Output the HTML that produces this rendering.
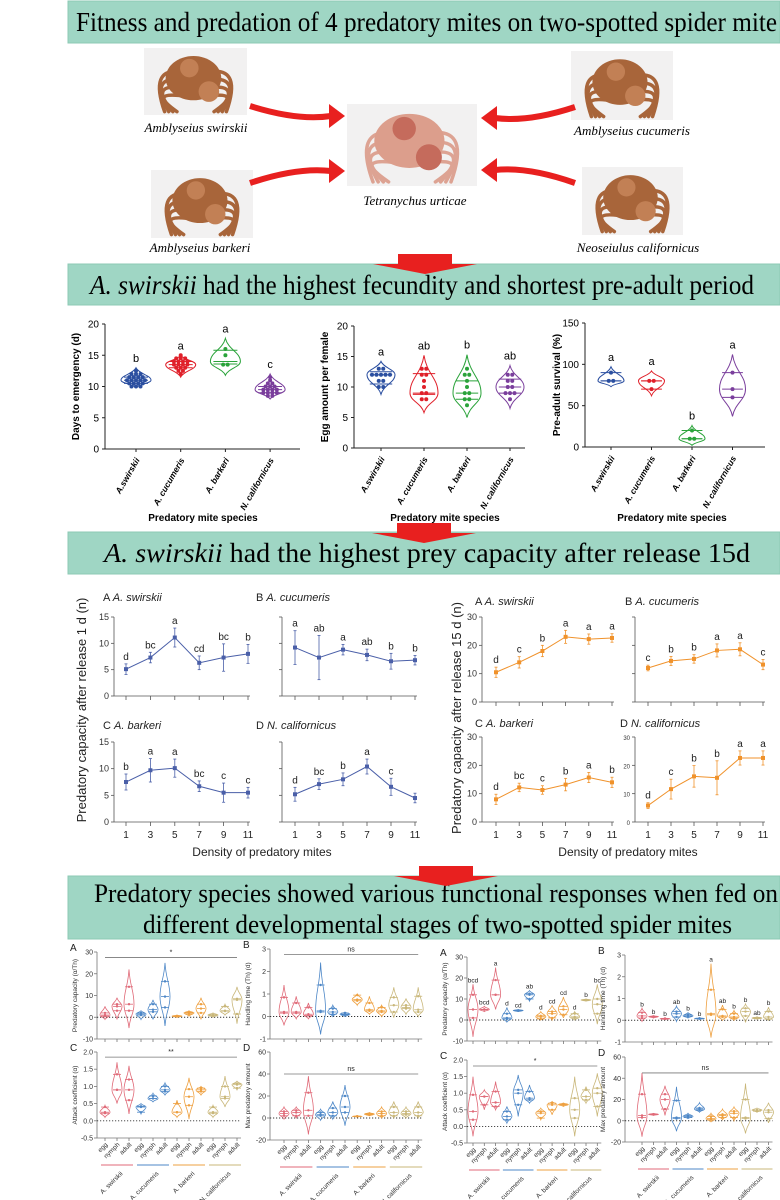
<!DOCTYPE html>
<html><head><meta charset="utf-8"><style>
html,body{margin:0;padding:0;background:#fff;}
svg{display:block;font-family:"Liberation Sans",sans-serif;}
.ser{font-family:"Liberation Serif",serif;}
</style></head><body>
<svg id="root" width="780" height="1200" viewBox="0 0 780 1200">
<g>
<rect x="68" y="1" width="712" height="42" fill="#9fd6c4" stroke="#8cc9b5"/>
<text class="ser" x="76" y="31" font-size="27" textLength="701" lengthAdjust="spacingAndGlyphs">Fitness and predation of 4 predatory mites on two-spotted spider mite</text>
</g>
<g id="mites"></g>
<g>
<rect x="68" y="264" width="712" height="41" fill="#9fd6c4" stroke="#8cc9b5"/>
<text class="ser" x="90" y="294" font-size="27" textLength="664" lengthAdjust="spacingAndGlyphs"><tspan font-style="italic">A. swirskii</tspan> had the highest fecundity and shortest pre-adult period</text>
</g>
<g>
<rect x="68" y="532" width="712" height="42" fill="#9fd6c4" stroke="#8cc9b5"/>
<text class="ser" x="104" y="562" font-size="27" textLength="646" lengthAdjust="spacingAndGlyphs"><tspan font-style="italic">A. swirskii</tspan> had the highest prey capacity after release 15d</text>
</g>
<g>
<rect x="68" y="876" width="712" height="63" fill="#9fd6c4" stroke="#8cc9b5"/>
<text class="ser" x="94" y="902" font-size="26" textLength="684" lengthAdjust="spacingAndGlyphs">Predatory species showed various functional responses when fed on</text>
<text class="ser" x="143" y="933" font-size="26" textLength="589" lengthAdjust="spacingAndGlyphs">different developmental stages of two-spotted spider mites</text>
</g>
<g id="charts"></g>
<g id="arrows"></g>
</svg>
<script>
const NS='http://www.w3.org/2000/svg';
function mk(parent,tag,attrs,name,txt){
  const el=document.createElementNS(NS,tag);
  for(const k in attrs) el.setAttribute(k,attrs[k]);
  
  
  if(txt!==undefined) el.textContent=txt;
  parent.appendChild(el);
  return el;
}
const root=document.getElementById('charts');
const mites=document.getElementById('mites');
const arrows=document.getElementById('arrows');

/* ---------- mite diagram ---------- */
function mite(x,y,w,h,body,spot,leg,label,lx,ly,name){
  const g=mk(mites,'g',{},name);
  mk(g,'rect',{x:x,y:y,width:w,height:h,fill:'#f2f1f1'},'mite-box');
  const cx=x+w/2,cy=y+h/2;
  for(let i=0;i<4;i++){
    const dy=-h*0.15+i*h*0.12;
    mk(g,'path',{d:`M${cx-w*0.15},${cy+dy} Q${cx-w*0.45},${cy+dy-h*0.05} ${cx-w*0.3+i*w*0.04},${cy+h*0.45}`,stroke:leg,'stroke-width':3.5,fill:'none','stroke-linecap':'round'},'mite-leg');
    mk(g,'path',{d:`M${cx+w*0.15},${cy+dy} Q${cx+w*0.45},${cy+dy-h*0.05} ${cx+w*0.3-i*w*0.04},${cy+h*0.45}`,stroke:leg,'stroke-width':3.5,fill:'none','stroke-linecap':'round'},'mite-leg');
  }
  mk(g,'ellipse',{cx:cx-w*0.02,cy:cy-h*0.05,rx:w*0.27,ry:h*0.33,fill:body},'mite-body');
  mk(g,'circle',{cx:cx-w*0.06,cy:cy-h*0.2,r:w*0.09,fill:spot},'mite-spot');
  mk(g,'circle',{cx:cx+w*0.13,cy:cy+h*0.15,r:w*0.1,fill:spot},'mite-spot');
  mk(g,'text',{x:lx,y:ly,'font-size':13,'font-style':'italic','text-anchor':'middle','class':'ser'},'mite-label',label);
}
mite(144,48,103,67,'#a8653a','#c28055','#a8653a','Amblyseius swirskii',196,132,'mite-swirskii');
mite(571,51,102,69,'#a8653a','#c28055','#a8653a','Amblyseius cucumeris',632,135,'mite-cucumeris');
mite(151,170,102,68,'#a8653a','#c28055','#a8653a','Amblyseius barkeri',200,252,'mite-barkeri');
mite(582,167,101,68,'#a8653a','#c28055','#a8653a','Neoseiulus californicus',638,252,'mite-californicus');
mite(347,104,130,82,'#dc9e8c','#c56b5c','#dda393','Tetranychus urticae',415,205,'mite-urticae');
function curveArrow(x1,y1,x2,y2,name){
  const g=mk(mites,'g',{},name);
  const dir=x2>x1?1:-1;
  mk(g,'path',{d:`M${x1},${y1} Q${(x1+x2)/2},${(y1+y2)/2+ (y1<y2?10:-10)} ${x2-dir*14},${y2}`,stroke:'#e8201f','stroke-width':6,fill:'none'},'arrow-shaft');
  mk(g,'polygon',{points:`${x2-dir*16},${y2-12} ${x2},${y2} ${x2-dir*16},${y2+12}`,fill:'#e8201f'},'arrow-head');
}
curveArrow(250,106,345,116,'arrow-swirskii');
curveArrow(575,107,481,118,'arrow-cucumeris');
curveArrow(250,183,345,171,'arrow-barkeri');
curveArrow(575,183,481,170,'arrow-californicus');
function downArrow(cx,y,name){
  const g=mk(arrows,'g',{},name);
  mk(g,'rect',{x:cx-27,y:y,width:54,height:11,fill:'#e8201f'},'arrow-stem');
  mk(g,'polygon',{points:`${cx-52},${y+10} ${cx+52},${y+10} ${cx},${y+20}`,fill:'#e8201f'},'arrow-head');
}
downArrow(425,254,'down-arrow-1');
downArrow(424,523,'down-arrow-2');
downArrow(446,866,'down-arrow-3');

/* ---------- shared ---------- */
function lin(v0,v1,p0,p1){return v=>p0+(v-v0)*(p1-p0)/(v1-v0);}
function violin(g,cx,y,lo,hi,q1,med,q3,w,col,sw){
  const a=y(hi),m=y(med),b=y(lo);
  const d=`M${cx},${a} C${cx+w*0.2},${a+(m-a)*0.5} ${cx+w},${m-(m-a)*0.4} ${cx+w},${m} C${cx+w},${m+(b-m)*0.4} ${cx+w*0.2},${b-(b-m)*0.5} ${cx},${b} C${cx-w*0.2},${b-(b-m)*0.5} ${cx-w},${m+(b-m)*0.4} ${cx-w},${m} C${cx-w},${m-(m-a)*0.4} ${cx-w*0.2},${a+(m-a)*0.5} ${cx},${a}Z`;
  mk(g,'path',{d:d,fill:'none',stroke:col,'stroke-width':sw},'violin');
  [q1,med,q3].forEach(q=>{
    mk(g,'line',{x1:cx-w*0.8,x2:cx+w*0.8,y1:y(q),y2:y(q),stroke:col,'stroke-width':sw},'quartile-line');
  });
}

/* ---------- top violin charts ---------- */
const topCats=['A.swirskii','A. cucumeris','A. barkeri','N. californicus'];
const topColors=['#2b4fa0','#e0202a','#2aa33a','#7a3e9c'];
const days_lo=[9.8,11.5,11.8,8], days_hi=[13,15,17.7,12], days_q1=[10.5,13,13.6,9], days_med=[11,13.5,14,9.5], days_q3=[11.5,14,15.8,10];
const days_pts=[[10,10,10,10.5,10.5,10.5,10.5,11,11,11,11,11,11.5,11.5,11.5,11.5,12,12,12,12.5],[12,12.5,12.5,13,13,13,13.5,13.5,13.5,13.5,14,14,14,14,14.5,14.5,14.5,15],[13.5,13.5,15,16],[8.5,8.5,9,9,9,9,9.5,9.5,9.5,9.5,10,10,10,10.5,10.5,11,11.5]];
const days_letters=['b','a','a','c'];
const egg_lo=[8.8,5.8,5,6.5], egg_hi=[14.2,15.2,15.3,13.5], egg_q1=[10.5,8.8,8,9], egg_med=[12,9,9,10], egg_q3=[12.5,12.2,11,11.3];
const egg_pts=[[10,10,11,11,12,12,12,12,13,13,12],[8,8,9,9,10,11,12,12,13,13],[7,8,8,9,9,10,11,12,12,13],[8,9,9,10,10,11,11,12,12,9]];
const egg_letters=['a','ab','b','ab'];
const surv_lo=[73,62,2,37], surv_hi=[97,92,26,112], surv_q1=[80,70,10,60], surv_med=[80,80,10,70], surv_q3=[90,80,20,90];
const surv_pts=[[80,80,90],[70,80,80],[10,10,20],[60,70,90]];
const surv_letters=['a','a','b','a'];
const days_ticks=[0,5,10,15,20], egg_ticks=[0,5,10,15,20], surv_ticks=[0,50,100,150];

function topChart(c){
  const g=mk(root,'g',{},c.name);
  const y=lin(c.vmin,c.vmax,c.yb,c.yt);
  mk(g,'line',{x1:c.ax,x2:c.ax,y1:c.yb,y2:c.yt,stroke:'#222','stroke-width':1},'y-axis');
  mk(g,'line',{x1:c.ax,x2:c.xe,y1:c.yb,y2:c.yb,stroke:'#222','stroke-width':1},'x-axis');
  c.ticks.forEach(t=>{
    mk(g,'line',{x1:c.ax-3,x2:c.ax,y1:y(t),y2:y(t),stroke:'#222'},'y-tick');
    mk(g,'text',{x:c.ax-6,y:y(t)+3.5,'font-size':10,'text-anchor':'end'},'y-tick-label',String(t));
  });
  mk(g,'text',{x:0,y:0,'font-size':10,'font-weight':'bold','text-anchor':'middle',transform:`translate(${c.ytx},${(c.yb+c.yt)/2}) rotate(-90)`},'y-axis-title',c.ytitle);
  for(let i=0;i<4;i++){
    const cx=c.cx0+i*c.step, col=topColors[i];
    mk(g,'line',{x1:cx,x2:cx,y1:c.yb,y2:c.yb+3,stroke:'#222'},'x-tick');
    violin(g,cx,y,c.lo[i],c.hi[i],c.q1[i],c.med[i],c.q3[i],c.w,col,1);
    const cnt={};
    c.pts[i].forEach(v=>{cnt[v]=(cnt[v]||0)+1;});
    const seen={};
    c.pts[i].forEach(v=>{
      const k=seen[v]=(seen[v]||0)+1;
      const off=(k-1-(cnt[v]-1)/2)*4.5;
      mk(g,'circle',{cx:cx+off,cy:y(v),r:2,fill:col},'data-point');
    });
    mk(g,'text',{x:cx,y:y(c.hi[i])-6,'font-size':11,'text-anchor':'middle'},'significance-letter',c.letters[i]);
    mk(g,'text',{x:0,y:0,'font-size':8.5,'font-weight':'bold','font-style':'italic','text-anchor':'end',transform:`translate(${cx+4},${c.yb+11}) rotate(-60)`},'x-tick-label',topCats[i]);
  }
  mk(g,'text',{x:c.xtx,y:521,'font-size':10,'font-weight':'bold','text-anchor':'middle'},'x-axis-title','Predatory mite species');
}
topChart({name:'chart-days',ax:105,xe:300,yt:324,yb:449,vmin:0,vmax:20,ticks:days_ticks,cx0:136,step:44.7,w:15,lo:days_lo,hi:days_hi,q1:days_q1,med:days_med,q3:days_q3,pts:days_pts,letters:days_letters,ytx:79,ytitle:'Days to emergency (d)',xtx:203});
topChart({name:'chart-eggs',ax:354,xe:525,yt:326,yb:448,vmin:0,vmax:20,ticks:egg_ticks,cx0:381,step:43,w:14,lo:egg_lo,hi:egg_hi,q1:egg_q1,med:egg_med,q3:egg_q3,pts:egg_pts,letters:egg_letters,ytx:328,ytitle:'Egg amount per female',xtx:445});
topChart({name:'chart-survival',ax:585,xe:765,yt:323,yb:447,vmin:0,vmax:150,ticks:surv_ticks,cx0:611,step:40.5,w:13,lo:surv_lo,hi:surv_hi,q1:surv_q1,med:surv_med,q3:surv_q3,pts:surv_pts,letters:surv_letters,ytx:560,ytitle:'Pre-adult survival (%)',xtx:672});

/* ---------- line charts ---------- */
const densities=[1,3,5,7,9,11];
const d1_A=[5.1,7.3,11.1,6.3,7.3,8.0], d1_A_err=[1,1,1.8,1.3,2.6,1.8], d1_A_let=['d','bc','a','cd','bc','b'];
const d1_B=[9.2,7.3,8.8,7.8,6.6,6.8], d1_B_err=[3.2,4.2,1,1.1,1.5,0.9], d1_B_let=['a','ab','a','ab','b','b'];
const d1_C=[7.5,9.7,10.1,6.7,5.5,5.5], d1_C_err=[1.5,2.2,1.7,1,1.8,1], d1_C_let=['b','a','a','bc','c','c'];
const d1_D=[5.2,7.1,8.0,10.4,6.6,4.5], d1_D_err=[1.3,1,1.2,1.4,1.6,0.9], d1_D_let=['d','bc','b','a','c',''];
const d15_A=[10.5,14,18,23,22.2,22.6], d15_A_err=[1.8,2,2,2.3,1.8,1.5], d15_A_let=['d','c','b','a','a','a'];
const d15_B=[12,14.5,15.2,18.2,18.6,13.2], d15_B_err=[1,1.6,1.5,2.3,2.3,1.8], d15_B_let=['c','b','b','a','a','c'];
const d15_C=[8,12.2,11.3,13.2,15.7,14], d15_C_err=[1.8,1.5,1.5,2.2,1.8,1.8], d15_C_let=['d','bc','c','b','a','b'];
const d15_D=[5.8,11.6,16.1,15.6,22.6,22.6], d15_D_err=[1,3.5,3.8,6,2.5,2.5], d15_D_let=['d','c','b','b','a','a'];
const ticks15=[0,5,10,15], ticks30=[0,10,20,30];

function linePanel(c){
  const g=mk(root,'g',{},c.name);
  const y=lin(0,c.vmax,c.yb,c.yt);
  const x=i=>c.x0+i*c.step;
  mk(g,'line',{x1:c.ax,x2:c.ax,y1:c.yb,y2:c.yt,stroke:'#555','stroke-width':0.8},'y-axis');
  mk(g,'line',{x1:c.ax,x2:x(5)+2,y1:c.yb,y2:c.yb,stroke:'#555','stroke-width':0.8},'x-axis');
  c.ticks.forEach(t=>{
    mk(g,'line',{x1:c.ax-3,x2:c.ax,y1:y(t),y2:y(t),stroke:'#555','stroke-width':0.8},'y-tick');
    if(c.labels) mk(g,'text',{x:c.ax-5,y:y(t)+3,'font-size':c.lfs||9,'text-anchor':'end',fill:'#333'},'y-tick-label',String(t));
  });
  const tt=mk(g,'text',{x:c.tx,y:c.ty,'font-size':11,fill:'#222'},'panel-title');
  const t1=mk(tt,'tspan',{},'panel-letter',c.letter+'  ');
  const t2=mk(tt,'tspan',{'font-style':'italic'},'panel-species',c.title);
  let pts='';
  densities.forEach((d,i)=>{pts+=`${x(i)},${y(c.vals[i])} `;});
  mk(g,'polyline',{points:pts,fill:'none',stroke:c.col,'stroke-width':1},'series-line');
  densities.forEach((d,i)=>{
    mk(g,'line',{x1:x(i),x2:x(i),y1:c.yb,y2:c.yb+4,stroke:'#555','stroke-width':0.8},'x-tick');
    const e=c.err[i];
    mk(g,'line',{x1:x(i),x2:x(i),y1:y(c.vals[i]-e),y2:y(c.vals[i]+e),stroke:c.col,'stroke-width':0.8},'error-bar');
    mk(g,'line',{x1:x(i)-1.5,x2:x(i)+1.5,y1:y(c.vals[i]+e),y2:y(c.vals[i]+e),stroke:c.col,'stroke-width':0.8},'error-cap');
    mk(g,'line',{x1:x(i)-1.5,x2:x(i)+1.5,y1:y(c.vals[i]-e),y2:y(c.vals[i]-e),stroke:c.col,'stroke-width':0.8},'error-cap');
    mk(g,'rect',{x:x(i)-2,y:y(c.vals[i])-2,width:4,height:4,fill:c.col},'data-point');
    if(c.lets[i]) mk(g,'text',{x:x(i),y:y(c.vals[i]+e)-4,'font-size':10,'text-anchor':'middle',fill:'#222'},'significance-letter',c.lets[i]);
    if(c.xlabels) mk(g,'text',{x:x(i),y:838,'font-size':10,'text-anchor':'middle',fill:'#222'},'x-tick-label',String(d));
  });
}
const blue='#4a5fa8', orange='#f0922b';
linePanel({name:'panel-1d-A',ax:114,x0:126,step:24.4,yt:617,yb:696,vmax:15,ticks:ticks15,labels:true,vals:d1_A,err:d1_A_err,lets:d1_A_let,col:blue,tx:103,ty:601,letter:'A',title:'A. swirskii'});
linePanel({name:'panel-1d-B',ax:282,x0:295,step:24,yt:617,yb:696,vmax:15,ticks:ticks15,labels:false,vals:d1_B,err:d1_B_err,lets:d1_B_let,col:blue,tx:256,ty:601,letter:'B',title:'A. cucumeris'});
linePanel({name:'panel-1d-C',ax:114,x0:126,step:24.4,yt:742,yb:822,vmax:15,ticks:ticks15,labels:true,xlabels:true,vals:d1_C,err:d1_C_err,lets:d1_C_let,col:blue,tx:103,ty:729,letter:'C',title:'A. barkeri'});
linePanel({name:'panel-1d-D',ax:282,x0:295,step:24,yt:742,yb:822,vmax:15,ticks:ticks15,labels:false,xlabels:true,vals:d1_D,err:d1_D_err,lets:d1_D_let,col:blue,tx:256,ty:729,letter:'D',title:'N. californicus'});
linePanel({name:'panel-15d-A',ax:482,x0:496,step:23.2,yt:617,yb:702,vmax:30,ticks:ticks30,labels:true,vals:d15_A,err:d15_A_err,lets:d15_A_let,col:orange,tx:475,ty:605,letter:'A',title:'A. swirskii'});
linePanel({name:'panel-15d-B',ax:635,x0:648,step:23,yt:617,yb:702,vmax:30,ticks:ticks30,labels:false,vals:d15_B,err:d15_B_err,lets:d15_B_let,col:orange,tx:625,ty:605,letter:'B',title:'A. cucumeris'});
linePanel({name:'panel-15d-C',ax:482,x0:496,step:23.2,yt:737,yb:822,vmax:30,ticks:ticks30,labels:true,xlabels:true,vals:d15_C,err:d15_C_err,lets:d15_C_let,col:orange,tx:475,ty:727,letter:'C',title:'A. barkeri'});
linePanel({name:'panel-15d-D',ax:635,x0:648,step:23,yt:737,yb:822,vmax:30,ticks:ticks30,labels:true,lfs:6,xlabels:true,vals:d15_D,err:d15_D_err,lets:d15_D_let,col:orange,tx:620,ty:727,letter:'D',title:'N. californicus'});
mk(root,'text',{x:0,y:0,'font-size':13,'text-anchor':'middle',fill:'#222',transform:'translate(86,710) rotate(-90)'},'y-axis-title-1d','Predatory capacity after release 1 d (n)');
mk(root,'text',{x:0,y:0,'font-size':13,'text-anchor':'middle',fill:'#222',transform:'translate(461,718) rotate(-90)'},'y-axis-title-15d','Predatory capacity after release 15 d (n)');
mk(root,'text',{x:262,y:856,'font-size':12,'text-anchor':'middle',fill:'#222'},'x-axis-title-1d','Density of predatory mites');
mk(root,'text',{x:628,y:856,'font-size':12,'text-anchor':'middle',fill:'#222'},'x-axis-title-15d','Density of predatory mites');

/* ---------- bottom functional response violins ---------- */
const stages=['egg','nymph','adult'];
const groups=['A. swirskii','A. cucumeris','A. barkeri','N. californicus'];
const grpColors=['#e06a78','#4d87c7','#eea040','#c9b77a'];
const LA_lo=[-1,-1,-5,-1,-1,-4,0,0.5,-1,0,1,-3], LA_hi=[5,9,22,3,8,25,1,3,9,2,6,14], LA_med=[1,5,6,1.5,3.5,9.5,0.5,2,4,1,3,8], LA_q1=[0.5,3,3,1,2.5,4.5,0.3,1.5,2,0.8,2.8,1.5], LA_q3=[2,6,14,2,6,16.5,0.6,2.2,6,1.2,5,8.5];
const LB_lo=[-0.4,-0.1,-0.1,-0.8,0,0,0.5,0.1,0,-0.05,0.1,0], LB_hi=[1.4,0.9,0.6,2.4,0.5,0.2,1.0,0.9,0.5,1.3,0.8,1.3], LB_med=[0.2,0.2,0.1,0.25,0.2,0.1,0.75,0.3,0.25,0.5,0.4,0.3], LB_q1=[0.15,0.15,0.05,0.2,0.1,0.08,0.7,0.25,0.2,0.2,0.35,0.2], LB_q3=[0.85,0.6,0.4,1.4,0.35,0.15,0.95,0.6,0.4,0.85,0.5,0.9];
const LC_lo=[0.1,0.5,0.2,0.2,0.55,0.75,0.1,0.05,0.75,0.1,0.4,0.9], LC_hi=[0.45,1.7,1.6,0.5,0.8,1.1,0.6,1.25,1.0,0.45,1.3,1.15], LC_med=[0.25,0.9,0.9,0.4,0.65,0.9,0.25,0.7,0.9,0.25,0.7,1.05], LC_q1=[0.22,0.9,0.6,0.25,0.65,0.85,0.25,0.45,0.85,0.22,0.65,0.95], LC_q3=[0.4,1.35,1.2,0.42,0.72,1.0,0.5,0.92,0.95,0.4,1.0,1.08];
const LD_lo=[-1,0,-15,-2,-1,-7,1,2,0,0,0,0], LD_hi=[10,10,38,8,15,30,2,5,10,15,10,15], LD_med=[4,5,7,3,5,10,1.5,3.5,4,5,4,5], LD_q1=[2,2,2,2,2,5,1.5,3,2,2,3,2], LD_q3=[6,7,23,5,9,20,1.5,4,6,10,6,10];
const RA_lo=[-8,4,5,-1,4,9,0,0,1,0,9,-2], RA_hi=[17,6.5,25,6,5,14,4,7,11,4,10,17], RA_med=[5,5,12,1,4.5,12,1.5,3,5,1.5,9.5,7.5], RA_q1=[1,5,12,0.5,4.5,10,0.5,1,2.5,1,9.5,3], RA_q3=[12,5,19,3,4.5,12.5,2,4,6.5,3,9.5,10];
const RA_let=['bcd','bcd','a','d','cd','ab','d','cd','cd','d','b','bc'];
const RB_lo=[-0.05,0.1,0.03,-0.05,0.1,0.05,-0.8,0,0,-0.1,0.05,0], RB_hi=[0.55,0.2,0.1,0.65,0.35,0.1,2.6,0.7,0.45,0.75,0.15,0.6], RB_med=[0.2,0.17,0.07,0.3,0.2,0.08,0.3,0.2,0.15,0.4,0.1,0.15], RB_q1=[0.1,0.16,0.06,0.15,0.18,0.07,0.25,0.15,0.1,0.2,0.1,0.05], RB_q3=[0.35,0.18,0.08,0.4,0.25,0.09,1.4,0.5,0.3,0.55,0.12,0.4];
const RB_let=['b','b','b','ab','b','b','a','ab','b','b','ab','b'];
const RC_lo=[-0.3,0.5,0.5,0.1,0.3,0.7,0.2,0.35,0.6,-0.3,0.7,0.3], RC_hi=[1.5,1.1,1.35,0.6,1.55,1.25,0.55,0.75,0.7,1.5,1.2,1.6], RC_med=[0.45,0.9,0.72,0.3,1.0,0.85,0.4,0.65,0.66,0.5,0.9,1.0], RC_q1=[0.2,0.65,0.6,0.2,0.65,0.8,0.25,0.5,0.65,0.25,0.8,0.6], RC_q3=[0.95,0.9,1.05,0.45,1.1,1.05,0.45,0.7,0.68,0.85,1.1,1.15];
const RD_lo=[-15,5,5,-10,2,8,-1,1,0,-12,8,-2], RD_hi=[45,7,33,32,7,17,7,11,13,35,12,17], RD_med=[5,6,20,3,4,11,2,5,7,3,10,8], RD_q1=[3,6,11,2,3,10,1,3,3,2,9,2], RD_q3=[25,6,25,19,5,12,4,6,9,20,10,10];
const tA=[-10,0,10,20,30], tB=[-1,0,1,2,3], tC=[-0.5,0.0,0.5,1.0,1.5,2.0], tD=[-20,0,20,40,60];

function frPanel(c){
  const g=mk(root,'g',{},c.name);
  const y=lin(c.vmin,c.vmax,c.yb,c.yt);
  const x=i=>c.x0+i*c.step;
  mk(g,'line',{x1:c.ax,x2:c.ax,y1:c.yb,y2:c.yt,stroke:'#777','stroke-width':0.8},'y-axis');
  mk(g,'line',{x1:c.ax,x2:x(11)+4,y1:c.yb,y2:c.yb,stroke:'#777','stroke-width':0.8},'x-axis');
  mk(g,'line',{x1:c.ax,x2:x(11)+4,y1:y(0),y2:y(0),stroke:'#333','stroke-width':0.9,'stroke-dasharray':'1.2,1.8'},'zero-line');
  c.ticks.forEach(t=>{
    mk(g,'line',{x1:c.ax-3,x2:c.ax,y1:y(t),y2:y(t),stroke:'#777','stroke-width':0.8},'y-tick');
    mk(g,'text',{x:c.ax-4,y:y(t)+2.5,'font-size':7,'text-anchor':'end',fill:'#333'},'y-tick-label',c.fmt?t.toFixed(1):String(t));
  });
  mk(g,'text',{x:c.ax-27,y:c.yt-1,'font-size':10,fill:'#222'},'panel-letter',c.letter);
  mk(g,'text',{x:0,y:0,'font-size':6.5,'text-anchor':'middle',fill:'#333',transform:`translate(${c.ax-20},${(c.yt+c.yb)/2}) rotate(-90)`},'y-axis-title',c.ytitle);
  for(let i=0;i<12;i++){
    const col=grpColors[Math.floor(i/3)];
    mk(g,'line',{x1:x(i),x2:x(i),y1:c.yb,y2:c.yb+3,stroke:'#777','stroke-width':0.8},'x-tick');
    violin(g,x(i),y,c.lo[i],c.hi[i],c.q1[i],c.med[i],c.q3[i],5,col,0.8);
    [c.q1[i],c.med[i],c.q3[i]].forEach(v=>mk(g,'circle',{cx:x(i),cy:y(v),r:1.2,fill:col},'data-point'));
    if(c.lets) mk(g,'text',{x:x(i),y:y(c.hi[i])-2,'font-size':6.5,'text-anchor':'middle',fill:'#222'},'significance-letter',c.lets[i]);
  }
  if(c.sig){
    mk(g,'line',{x1:x(0),x2:x(11),y1:y(c.sigv),y2:y(c.sigv),stroke:'#777','stroke-width':0.8},'significance-bar');
    mk(g,'text',{x:(x(0)+x(11))/2,y:y(c.sigv)-3,'font-size':7,'text-anchor':'middle',fill:'#222'},'significance-label',c.sig);
  }
  if(c.xlab){
    for(let i=0;i<12;i++){
      mk(g,'text',{x:0,y:0,'font-size':6.5,'text-anchor':'end',fill:'#333',transform:`translate(${x(i)+3},${c.yb+7}) rotate(-45)`},'x-tick-label',stages[i%3]);
    }
    for(let k=0;k<4;k++){
      mk(g,'line',{x1:x(k*3)-4,x2:x(k*3+2)+4,y1:c.yb+27,y2:c.yb+27,stroke:grpColors[k],'stroke-width':1},'group-underline');
      mk(g,'text',{x:0,y:0,'font-size':6.5,'text-anchor':'end',fill:'#333',transform:`translate(${x(k*3+1)+6},${c.yb+36}) rotate(-45)`},'group-label',groups[k]);
    }
  }
}
frPanel({name:'fr-left-A',letter:'A',ax:97,x0:105,step:12,yt:952,yb:1039,vmin:-10,vmax:30,ticks:tA,lo:LA_lo,hi:LA_hi,med:LA_med,q1:LA_q1,q3:LA_q3,sig:'*',sigv:27.5,ytitle:'Predatory capacity (α/Th)'});
frPanel({name:'fr-left-B',letter:'B',ax:270,x0:284,step:12.2,yt:949,yb:1039,vmin:-1,vmax:3,ticks:tB,lo:LB_lo,hi:LB_hi,med:LB_med,q1:LB_q1,q3:LB_q3,sig:'ns',sigv:2.75,ytitle:'Handling time (Th) (d)'});
frPanel({name:'fr-left-C',letter:'C',ax:97,x0:105,step:12,yt:1052,yb:1138,vmin:-0.5,vmax:2,ticks:tC,fmt:true,lo:LC_lo,hi:LC_hi,med:LC_med,q1:LC_q1,q3:LC_q3,sig:'**',sigv:1.85,xlab:true,ytitle:'Attack coefficient (α)'});
frPanel({name:'fr-left-D',letter:'D',ax:270,x0:284,step:12.2,yt:1052,yb:1140,vmin:-20,vmax:60,ticks:tD,lo:LD_lo,hi:LD_hi,med:LD_med,q1:LD_q1,q3:LD_q3,sig:'ns',sigv:40,xlab:true,ytitle:'Max predatory amount'});
frPanel({name:'fr-right-A',letter:'A',ax:467,x0:473,step:11.3,yt:957,yb:1041,vmin:-10,vmax:30,ticks:tA,lo:RA_lo,hi:RA_hi,med:RA_med,q1:RA_q1,q3:RA_q3,lets:RA_let,ytitle:'Predatory capacity (α/Th)'});
frPanel({name:'fr-right-B',letter:'B',ax:625,x0:642,step:11.5,yt:955,yb:1042,vmin:-1,vmax:3,ticks:tB,lo:RB_lo,hi:RB_hi,med:RB_med,q1:RB_q1,q3:RB_q3,lets:RB_let,ytitle:'Handling time (Th) (d)'});
frPanel({name:'fr-right-C',letter:'C',ax:467,x0:473,step:11.3,yt:1060,yb:1143,vmin:-0.5,vmax:2,ticks:tC,fmt:true,lo:RC_lo,hi:RC_hi,med:RC_med,q1:RC_q1,q3:RC_q3,sig:'*',sigv:1.82,xlab:true,ytitle:'Attack coefficient (α)'});
frPanel({name:'fr-right-D',letter:'D',ax:625,x0:642,step:11.5,yt:1057,yb:1142,vmin:-20,vmax:60,ticks:tD,lo:RD_lo,hi:RD_hi,med:RD_med,q1:RD_q1,q3:RD_q3,sig:'ns',sigv:45,xlab:true,ytitle:'Max predatory amount'});
</script>
</body></html>
